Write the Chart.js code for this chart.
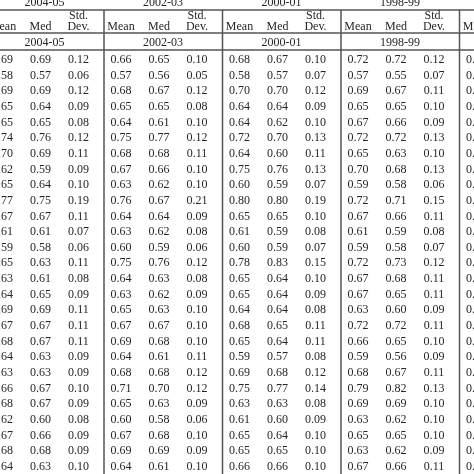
<!DOCTYPE html>
<html><head><meta charset="utf-8">
<script src="https://cdn.jsdelivr.net/npm/chart.js@4/dist/chart.umd.min.js"></script>
<style>html,body{margin:0;padding:0;background:#fff}#w{width:474px;height:474px}</style>
</head><body><div id="w"><canvas id="c"></canvas></div>
<script>
const periods = ['2004-05','2002-03','2000-01','1998-99','1996-97'];
const colHeads = ['Mean','Med','Std. Dev.'];
const mean0405 = [0.69,0.58,0.69,0.65,0.65,0.74,0.70,0.62,0.65,0.77,0.67,0.61,0.59,0.65,0.63,0.64,0.69,0.67,0.68,0.64,0.63,0.66,0.68,0.62,0.67,0.68,0.64];
const med0405  = [0.69,0.57,0.69,0.64,0.65,0.76,0.69,0.59,0.64,0.75,0.67,0.61,0.58,0.63,0.61,0.65,0.69,0.67,0.67,0.63,0.63,0.67,0.67,0.60,0.66,0.68,0.63];
const sd0405   = [0.12,0.06,0.12,0.09,0.08,0.12,0.11,0.09,0.10,0.19,0.11,0.07,0.06,0.11,0.08,0.09,0.11,0.11,0.11,0.09,0.09,0.10,0.09,0.08,0.09,0.09,0.10];
const mean0203 = [0.66,0.57,0.68,0.65,0.64,0.75,0.68,0.67,0.63,0.76,0.64,0.63,0.60,0.75,0.64,0.63,0.65,0.67,0.69,0.64,0.68,0.71,0.65,0.60,0.67,0.69,0.64];
const med0203  = [0.65,0.56,0.67,0.65,0.61,0.77,0.68,0.66,0.62,0.67,0.64,0.62,0.59,0.76,0.63,0.62,0.63,0.67,0.68,0.61,0.68,0.70,0.63,0.58,0.68,0.69,0.61];
const sd0203   = [0.10,0.05,0.12,0.08,0.10,0.12,0.11,0.10,0.10,0.21,0.09,0.08,0.06,0.12,0.08,0.09,0.10,0.10,0.10,0.11,0.12,0.12,0.09,0.06,0.10,0.09,0.10];
const mean0001 = [0.68,0.58,0.70,0.64,0.64,0.72,0.64,0.75,0.60,0.80,0.65,0.61,0.60,0.78,0.65,0.65,0.64,0.68,0.65,0.59,0.69,0.75,0.63,0.61,0.65,0.65,0.66];
const med0001  = [0.67,0.57,0.70,0.64,0.62,0.70,0.60,0.76,0.59,0.80,0.65,0.59,0.59,0.83,0.64,0.64,0.64,0.65,0.64,0.57,0.68,0.77,0.63,0.60,0.64,0.65,0.66];
const sd0001   = [0.10,0.07,0.12,0.09,0.10,0.13,0.11,0.13,0.07,0.19,0.10,0.08,0.07,0.15,0.10,0.09,0.08,0.11,0.11,0.08,0.12,0.14,0.08,0.09,0.10,0.10,0.10];
const mean9899 = [0.72,0.57,0.69,0.65,0.67,0.72,0.65,0.70,0.59,0.72,0.67,0.61,0.59,0.72,0.67,0.67,0.63,0.72,0.66,0.59,0.68,0.79,0.69,0.63,0.65,0.63,0.67];
const med9899  = [0.72,0.55,0.67,0.65,0.66,0.72,0.63,0.68,0.58,0.71,0.66,0.59,0.58,0.73,0.68,0.65,0.60,0.72,0.65,0.56,0.67,0.82,0.69,0.62,0.65,0.62,0.66];
const sd9899   = [0.12,0.07,0.11,0.10,0.09,0.13,0.10,0.13,0.06,0.15,0.11,0.08,0.07,0.12,0.11,0.11,0.09,0.11,0.10,0.09,0.11,0.13,0.10,0.10,0.10,0.09,0.11];
const mean9697 = [0.71,0.55,0.64,0.64,0.64,0.73,0.64,0.64,0.55,0.64,0.64,0.64,0.55,0.64,0.64,0.64,0.64,0.64,0.64,0.64,0.64,0.72,0.64,0.64,0.64,0.64,0.64];
const med9697 = mean9697, sd9697 = sd9899;

const groups = [[mean0405,med0405,sd0405],[mean0203,med0203,sd0203],[mean0001,med0001,sd0001],[mean9899,med9899,sd9899],[mean9697,med9697,sd9697]];
const GW = 118.5, G0 = -14.5, OFF = [17,55,93], TOFF = 59;
const datasets = [];
groups.forEach((g,gi)=>g.forEach((arr,ci)=>{
  datasets.push({type:'scatter', label:periods[gi]+' '+colHeads[ci], vals:arr,
    data:arr.map((v,r)=>({x:G0+gi*GW+OFF[ci], y:r})), pointRadius:0});
}));
const lc = '#555';
[-3.2,-1.73,-0.64].forEach(y=>datasets.push({type:'line',data:[{x:0,y},{x:474,y}],borderColor:lc,borderWidth:1.5,pointRadius:0}));
[1,2,3,4].forEach(gi=>{const x=G0+gi*GW;datasets.push({type:'line',data:[{x,y:-3.2},{x,y:27}],borderColor:lc,borderWidth:1.5,pointRadius:0});});

const textPlugin = {id:'txt', afterDatasetsDraw(chart){
  const {ctx,scales:{x,y}} = chart;
  ctx.save(); ctx.fillStyle='#262626'; ctx.textAlign='center'; ctx.textBaseline='middle';
  ctx.font='12px "Liberation Serif", serif';
  chart.data.datasets.forEach((ds,i)=>{
    if(!ds.vals) return;
    chart.getDatasetMeta(i).data.forEach((p,r)=>ctx.fillText(ds.vals[r].toFixed(2),p.x,p.y));
  });
  periods.forEach((p,gi)=>{
    const cx = x.getPixelForValue(G0+gi*GW+TOFF);
    ctx.fillText(p,cx,y.getPixelForValue(-3.66));
    ctx.fillText(p,cx,y.getPixelForValue(-1.1));
    ctx.fillText('Mean',x.getPixelForValue(G0+gi*GW+OFF[0]),y.getPixelForValue(-2.1));
    ctx.fillText('Med',x.getPixelForValue(G0+gi*GW+OFF[1]),y.getPixelForValue(-2.1));
    ctx.fillText('Std.',x.getPixelForValue(G0+gi*GW+OFF[2]),y.getPixelForValue(-2.8));
    ctx.fillText('Dev.',x.getPixelForValue(G0+gi*GW+OFF[2]),y.getPixelForValue(-2.1));
  });
  ctx.restore();
}};
const RS = 15.64, YMIN = -60/RS;
new Chart(document.getElementById('c'),{
  data:{datasets},
  options:{responsive:true,maintainAspectRatio:false,animation:false,
    layout:{padding:0},
    plugins:{legend:{display:false},tooltip:{enabled:false}},
    scales:{x:{type:'linear',min:0,max:474,display:false},
            y:{type:'linear',min:YMIN,max:YMIN+474/RS,reverse:true,display:false}}},
  plugins:[textPlugin]
});
</script></body></html>
